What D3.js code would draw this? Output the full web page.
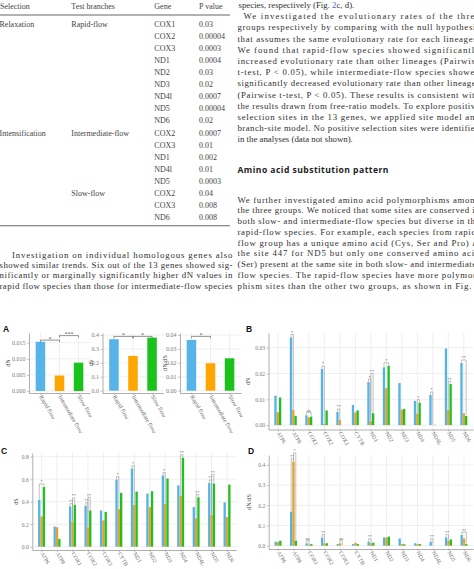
<!DOCTYPE html>
<html>
<head>
<meta charset="utf-8">
<script src="https://cdn.jsdelivr.net/npm/d3@7"></script>
<style>
body { margin: 0; background: #fff; }
svg { display: block; }
</style>
</head>
<body>
<svg id="page" width="474" height="569"></svg>
<script>
// ---------- table (text) ----------
var tableHead = ["Selection", "Test branches", "Gene", "P value"];
var tableGenes = ["COX1","COX2","COX3","ND1","ND2","ND3","ND4l","ND5","ND6","COX2","COX3","ND1","ND4l","ND5","COX2","COX3","ND6"];
var tablePvals = ["0.03","0.00004","0.0003","0.0004","0.03","0.02","0.0007","0.00004","0.02","0.0007","0.01","0.002","0.01","0.0003","0.04","0.008","0.008"];
var tableSelection = [[0, "Relaxation"], [9, "Intensification"]];
var tableBranches = [[0, "Rapid-flow"], [9, "Intermediate-flow"], [14, "Slow-flow"]];

// ---------- body text ----------
var leftPara = [
  "Investigation on individual homologous genes also",
  "showed similar trends. Six out of the 13 genes showed sig-",
  "nificantly or marginally significantly higher dN values in",
  "rapid flow species than those for intermediate-flow species"
];
var rightPara1 = [
  "species, respectively (Fig. [[2]]c, d).",
  "We investigated the evolutionary rates of the three",
  "groups respectively by comparing with the null hypothesis",
  "that assumes the same evolutionary rate for each lineages.",
  "We found that rapid-flow species showed significantly",
  "increased evolutionary rate than other lineages (Pairwise",
  "t-test, P < 0.05), while intermediate-flow species showed",
  "significantly decreased evolutionary rate than other lineages",
  "(Pairwise t-test, P < 0.05). These results is consistent with",
  "the results drawn from free-ratio models. To explore positive",
  "selection sites in the 13 genes, we applied site model and",
  "branch-site model. No positive selection sites were identified",
  "in the analyses (data not shown)."
];
var heading = "Amino acid substitution pattern";
var rightPara2 = [
  "We further investigated amino acid polymorphisms among",
  "the three groups. We noticed that some sites are conserved in",
  "both slow- and intermediate-flow species but diverse in the",
  "rapid-flow species. For example, each species from rapid-",
  "flow group has a unique amino acid (Cys, Ser and Pro) at",
  "the site 447 for ND5 but only one conserved amino acid",
  "(Ser) present at the same site in both slow- and intermediate-",
  "flow species. The rapid-flow species have more polymor-",
  "phism sites than the other two groups, as shown in Fig. [[3]]"
];

// ---------- chart data ----------
var flowGroups = ["Rapid flow", "Intermediate flow", "Slow flow"];
var overallDN = [0.0153, 0.0048, 0.0088];
var overallDS = [0.370, 0.250, 0.381];
var overallW  = [0.0365, 0.0197, 0.0233];
var sigOverallDN = [[0, 1, "*", 0.0158], [1, 2, "***", 0.0172]];
var sigOverallDS = [[0, 1, "*", 0.39], [1, 2, "*", 0.39]];
var sigOverallW  = [[0, 1, "*", 0.039]];
var ticksDN = [0, 0.005, 0.010, 0.015];
var ticksDS = [0, 0.1, 0.2, 0.3, 0.4];
var ticksW  = [0, 0.01, 0.02, 0.03, 0.04];

var genes = ["ATP6","ATP8","COX1","COX2","COX3","CYTB","ND1","ND2","ND3","ND4","ND4L","ND5","ND6"];
var dnRapid = [0.0114, 0.0340, 0.0038, 0.0218, 0.0051, 0.0078, 0.0167, 0.0224, 0.0163, 0.0094, 0.0117, 0.0297, 0.0241];
var dnInter = [0.0050, 0.0059, 0.0030, 0.0005, 0.0020, 0.0049, 0.0016, 0.0143, 0.0060, 0.0045, 0.0001, 0.0059, 0.0046];
var dnSlow  = [0.0107, 0.0036, 0.0033, 0.0057, 0.0000, 0.0057, 0.0046, 0.0230, 0.0063, 0.0087, 0.0001, 0.0159, 0.0035];
var dsRapid = [0.418, 0.179, 0.358, 0.364, 0.322, 0.597, 0.695, 0.472, 0.633, 0.546, 0.352, 0.567, 0.394];
var dsInter = [0.269, 0.173, 0.224, 0.173, 0.233, 0.334, 0.373, 0.352, 0.382, 0.454, 0.254, 0.284, 0.263];
var dsSlow  = [0.531, 0.069, 0.373, 0.322, 0.310, 0.478, 0.490, 0.493, 0.606, 0.791, 0.439, 0.561, 0.552];
var wRapid  = [0.020, 0.169, 0.012, 0.041, 0.008, 0.008, 0.020, 0.041, 0.036, 0.012, 0.020, 0.041, 0.053];
var wInter  = [0.018, 0.417, 0.006, 0.012, 0.012, 0.015, 0.012, 0.041, 0.008, 0.008, 0.000, 0.025, 0.036];
var wSlow   = [0.025, 0.025, 0.008, 0.012, 0.000, 0.008, 0.015, 0.045, 0.007, 0.008, 0.000, 0.031, 0.008];
// [gene index, series a, series b, label]
var sigDN = [[1,0,1,"*"],[2,0,2,"ns"],[3,0,1,"*"],[4,0,1,"**"],[6,0,1,"*"],[6,1,2,"**"],[7,0,2,"*"],[9,1,2,"*"],[10,0,1,"*"],[11,1,2,"**"],[12,0,2,"**"]];
var sigDS = [[0,0,2,"*"],[2,0,1,"**"],[2,1,2,"**"],[3,0,1,"**"],[3,1,2,"**"],[5,0,1,"*"],[6,0,1,"*"],[8,0,1,"*"],[9,1,2,"**"],[10,1,2,"**"],[11,0,1,"**"],[11,1,2,"**"]];
var sigW  = [[1,0,1,"**"],[1,1,2,"*"],[2,0,1,"ns"],[3,0,1,"**"],[4,1,2,"ns"],[6,0,1,"**"],[10,0,1,"**"],[11,0,1,"**"],[12,0,2,"**"]];
var ticksGeneDN = [0, 0.01, 0.02, 0.03];
var ticksGeneDS = [0, 0.2, 0.4, 0.6, 0.8];
var ticksGeneW  = [0, 0.1, 0.2, 0.3, 0.4];

var flowColors = ["#56B4E9", "#FFA500", "#1CC21C"];
var geneColors = ["#58B2E6", "#E3A12A", "#22BF22"];

var svg = d3.select("#page");
svg.append("rect").attr("width", 474).attr("height", 569).attr("fill", "#fff");

var serif = "'Liberation Serif', 'Times New Roman', serif";
var sans = "'Open Sans', 'Liberation Sans', sans-serif";

// ---------- table ----------
var tbl = svg.append("g").attr("font-family", serif).attr("font-size", 8).attr("fill", "#444");
var colX = [0, 71.3, 154.3, 199];
function rowY(i) { return 24 + i * 12.08; }
tbl.selectAll(".th").data(tableHead).enter().append("text")
  .attr("x", function(d, i) { return colX[i]; }).attr("y", 8.8).text(function(d) { return d; });
tbl.append("line").attr("x1", 0).attr("x2", 230).attr("y1", 15).attr("y2", 15).attr("stroke", "#666").attr("stroke-width", 1.1);
tbl.append("line").attr("x1", 0).attr("x2", 230).attr("y1", 225.7).attr("y2", 225.7).attr("stroke", "#666").attr("stroke-width", 1.1);
tbl.selectAll(".sel").data(tableSelection).enter().append("text")
  .attr("x", -0.5).attr("y", function(d) { return rowY(d[0]) + 2.8; }).text(function(d) { return d[1]; });
tbl.selectAll(".br").data(tableBranches).enter().append("text")
  .attr("x", colX[1]).attr("y", function(d) { return rowY(d[0]) + 2.8; }).text(function(d) { return d[1]; });
tbl.selectAll(".gn").data(tableGenes).enter().append("text")
  .attr("x", colX[2]).attr("y", function(d, i) { return rowY(i) + 2.8; }).text(function(d) { return d; });
tbl.selectAll(".pv").data(tablePvals).enter().append("text")
  .attr("x", colX[3]).attr("y", function(d, i) { return rowY(i) + 2.8; }).text(function(d) { return d; });

// ---------- paragraphs ----------
// first line indented by `indent`; last line justified only if justifyLast
function para(lines, x0, width, y0, dy, indent, justifyLast) {
  lines.forEach(function(line, i) {
    var ind = i === 0 ? indent : 0;
    var t = svg.append("text")
      .attr("x", x0 + ind).attr("y", y0 + i * dy + 3)
      .attr("font-family", serif).attr("font-size", 8.8).attr("fill", "#303030");
    line.split(/\[\[|\]\]/).forEach(function(p, k) {
      t.append("tspan").attr("fill", k % 2 ? "#4468c8" : null).text(p);
    });
    if (i < lines.length - 1 || justifyLast) t.attr("textLength", width - ind).attr("lengthAdjust", "spacing");
  });
}
para(leftPara, -0.5, 233, 255, 10.2, 12.5, true);
para(rightPara1.slice(0, 1), 238.5, 242, 5, 11.2, 0, false);
para(rightPara1.slice(1), 237.5, 242, 16.2, 11.2, 6, false);
svg.append("text").attr("x", 237.5).attr("y", 173).text(heading)
  .attr("font-family", sans).attr("font-weight", 700).attr("font-size", 8.6).attr("fill", "#222")
  .attr("textLength", 151).attr("lengthAdjust", "spacing");
para(rightPara2, 237.5, 242, 199.5, 10.75, 0, true);

// ---------- bar panels ----------
function barPanel(opt) {
  var g = svg.append("g");
  var x = d3.scalePoint().domain(opt.cats).range([opt.x0, opt.x1]).padding(0.6);
  var y = d3.scaleLinear().domain(opt.dom).range([opt.yb, opt.yt]);
  var step = x.step();

  g.selectAll(".hg").data(opt.ticks).enter().append("line")
    .attr("x1", opt.x0).attr("x2", opt.x1)
    .attr("y1", function(d) { return y(d); }).attr("y2", function(d) { return y(d); })
    .attr("stroke", "#e4e4e4").attr("stroke-width", 0.6);
  g.selectAll(".vg").data(opt.cats).enter().append("line")
    .attr("x1", function(d) { return x(d); }).attr("x2", function(d) { return x(d); })
    .attr("y1", opt.yb).attr("y2", opt.yt)
    .attr("stroke", "#e4e4e4").attr("stroke-width", 0.6);

  opt.series.forEach(function(vals, si) {
    g.selectAll(null).data(vals).enter().append("rect")
      .attr("x", function(d, i) { return x(opt.cats[i]) + (opt.offsets[si] - opt.bw / 2) * step; })
      .attr("width", opt.bw * step)
      .attr("y", function(d) { return y(d); })
      .attr("height", function(d) { return y(0) - y(d); })
      .attr("fill", function(d, i) { return opt.color(si, i); });
  });

  var ya = d3.axisLeft(y).tickValues(opt.ticks).tickFormat(d3.format(opt.fmt)).tickSize(2).tickSizeOuter(0).tickPadding(1.5);
  var yg = g.append("g").attr("transform", "translate(" + opt.x0 + ",0)").call(ya);
  var xa = d3.axisBottom(x).tickSize(2).tickSizeOuter(0).tickFormat("");
  var xg = g.append("g").attr("transform", "translate(0," + opt.yb + ")").call(xa);
  [yg, xg].forEach(function(a) {
    a.selectAll(".domain").attr("stroke", "#9a9a9a").attr("stroke-width", 0.8);
    a.selectAll(".tick line").attr("stroke", "#9a9a9a").attr("stroke-width", 0.6);
  });
  yg.selectAll(".tick text").attr("font-family", serif).attr("font-size", opt.fs).attr("fill", "#7a7a7a");

  g.selectAll(".xl").data(opt.cats).enter().append("text")
    .attr("transform", function(d) { return "translate(" + (x(d) + 0.5) + "," + (opt.yb + 2.5) + ") rotate(60)"; })
    .attr("dy", "0.35em").attr("font-family", serif).attr("font-size", opt.fs).attr("fill", "#6a6a6a")
    .text(function(d) { return d; });

  g.append("text")
    .attr("transform", "translate(" + opt.ylx + "," + ((opt.yb + opt.yt) / 2) + ") rotate(-90)")
    .attr("text-anchor", "middle").attr("font-family", serif).attr("font-size", 6.2).attr("fill", "#444")
    .text(opt.ylabel);

  return { g: g, x: x, y: y, step: step };
}

function overallSig(p, sig) {
  sig.forEach(function(s) {
    var xa = p.x(flowGroups[s[0]]), xb = p.x(flowGroups[s[1]]), yy = p.y(s[3]);
    p.g.append("path").attr("d", "M" + xa + "," + (yy + 2) + "V" + yy + "H" + xb + "V" + (yy + 2))
      .attr("fill", "none").attr("stroke", "#666").attr("stroke-width", 0.7);
    p.g.append("text").attr("x", (xa + xb) / 2).attr("y", yy + 0.6).attr("text-anchor", "middle")
      .attr("font-family", serif).attr("font-size", 6).attr("fill", "#555").text(s[2]);
  });
}

function geneSig(p, series, offsets, sig) {
  var lastTop = {};
  sig.forEach(function(s) {
    var c = p.x(genes[s[0]]);
    var xa = c + offsets[s[1]] * p.step, xb = c + offsets[s[2]] * p.step;
    var ya = p.y(series[s[1]][s[0]]), yb = p.y(series[s[2]][s[0]]);
    var top = Math.min(ya, yb) - 3;
    // stack a second bracket of the same gene above the first one
    if (lastTop[s[0]] !== undefined) top = Math.min(top, lastTop[s[0]] - 5.5);
    lastTop[s[0]] = top;
    p.g.append("path").attr("d", "M" + xa + "," + (ya - 0.5) + "V" + top + "H" + xb + "V" + (yb - 0.5))
      .attr("fill", "none").attr("stroke", "#999").attr("stroke-width", 0.6);
    p.g.append("text").attr("x", (xa + xb) / 2).attr("y", top - 0.5).attr("text-anchor", "middle")
      .attr("font-family", serif).attr("font-size", 4.5).attr("fill", "#666").text(s[3]);
  });
}

function flowColor(si, i) { return flowColors[i]; }
function geneColor(si, i) { return geneColors[si]; }

// Panel A (three overall panels)
var a1 = barPanel({ cats: flowGroups, series: [overallDN], offsets: [0], bw: 0.5, color: flowColor,
  x0: 29, x1: 90, yb: 393, yt: 333, dom: [-0.00062, 0.01801], ticks: ticksDN, fmt: ".3f",
  ylabel: "dN", ylx: 10, fs: 6 });
overallSig(a1, sigOverallDN);
var a2 = barPanel({ cats: flowGroups, series: [overallDS], offsets: [0], bw: 0.5, color: flowColor,
  x0: 102.5, x1: 163.5, yb: 393, yt: 333, dom: [-0.0165, 0.4144], ticks: ticksDS, fmt: ".1f",
  ylabel: "dS", ylx: 92.7, fs: 6 });
overallSig(a2, sigOverallDS);
var a3 = barPanel({ cats: flowGroups, series: [overallW], offsets: [0], bw: 0.5, color: flowColor,
  x0: 180, x1: 241, yb: 393, yt: 333, dom: [-0.00165, 0.04144], ticks: ticksW, fmt: ".2f",
  ylabel: "dN/dS", ylx: 166.5, fs: 6 });
overallSig(a3, sigOverallW);

var geneOffsets = [-0.15, 0, 0.15];
// Panel B: dN per gene
var seriesB = [dnRapid, dnInter, dnSlow];
var pb = barPanel({ cats: genes, series: seriesB, offsets: geneOffsets, bw: 0.15, color: geneColor,
  x0: 268.5, x1: 473.1, yb: 429.5, yt: 333, dom: [-0.0017, 0.0357], ticks: ticksGeneDN, fmt: ".2f",
  ylabel: "dN", ylx: 250, fs: 5.6 });
geneSig(pb, seriesB, geneOffsets, sigDN);

// Panel C: dS per gene
var seriesC = [dsRapid, dsInter, dsSlow];
var pc = barPanel({ cats: genes, series: seriesC, offsets: geneOffsets, bw: 0.15, color: geneColor,
  x0: 32.3, x1: 236.3, yb: 550, yt: 453, dom: [-0.0293, 0.833], ticks: ticksGeneDS, fmt: ".1f",
  ylabel: "dS", ylx: 18, fs: 5.6 });
geneSig(pc, seriesC, geneOffsets, sigDS);

// Panel D: dN/dS per gene
var seriesD = [wRapid, wInter, wSlow];
var pd = barPanel({ cats: genes, series: seriesD, offsets: geneOffsets, bw: 0.15, color: geneColor,
  x0: 268.7, x1: 473.3, yb: 549, yt: 455, dom: [-0.0163, 0.449], ticks: ticksGeneW, fmt: ".1f",
  ylabel: "dN/dS", ylx: 250.5, fs: 5.6 });
geneSig(pd, seriesD, geneOffsets, sigW);

// panel letters
var letters = [["A", 3, 331.5], ["B", 246, 331.5], ["C", 1, 453.5], ["D", 248, 453.5]];
svg.selectAll(".pl").data(letters).enter().append("text")
  .attr("x", function(d) { return d[1]; }).attr("y", function(d) { return d[2]; })
  .attr("font-family", "'Liberation Sans', Arial, sans-serif").attr("font-weight", 700).attr("font-size", 8.5)
  .attr("fill", "#111").text(function(d) { return d[0]; });
</script>
</body>
</html>
